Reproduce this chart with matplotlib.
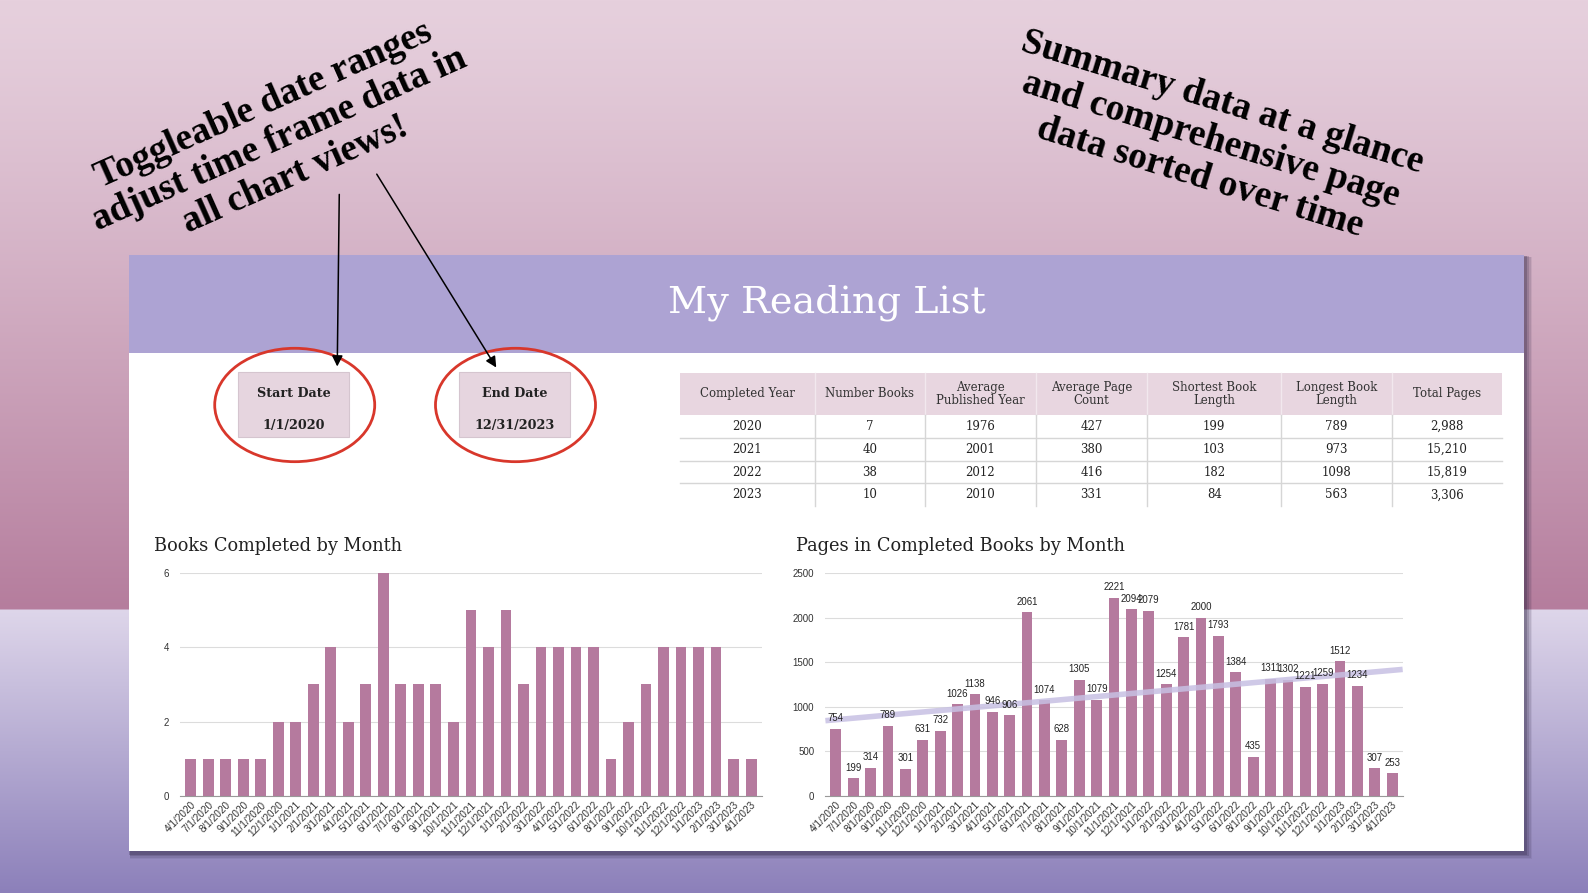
import numpy as np
import matplotlib
matplotlib.use("Agg")
import matplotlib.pyplot as plt
from matplotlib.patches import Rectangle, Ellipse

# ---- data ----
months = ["4/1/2020", "7/1/2020", "8/1/2020", "9/1/2020", "11/1/2020", "12/1/2020",
          "1/1/2021", "2/1/2021", "3/1/2021", "4/1/2021", "5/1/2021", "6/1/2021",
          "7/1/2021", "8/1/2021", "9/1/2021", "10/1/2021", "11/1/2021", "12/1/2021",
          "1/1/2022", "2/1/2022", "3/1/2022", "4/1/2022", "5/1/2022", "6/1/2022",
          "8/1/2022", "9/1/2022", "10/1/2022", "11/1/2022", "12/1/2022",
          "1/1/2023", "2/1/2023", "3/1/2023", "4/1/2023"]
books = [1, 1, 1, 1, 1, 2,
         2, 3, 4, 2, 3, 6, 3, 3, 3, 2, 5, 4,
         5, 3, 4, 4, 4, 4, 1, 2, 3, 4, 4,
         4, 4, 1, 1]
pages = [754, 199, 314, 789, 301, 631,
         732, 1026, 1138, 946, 906, 2061, 1074, 628, 1305, 1079, 2221, 2094,
         2079, 1254, 1781, 2000, 1793, 1384, 435, 1311, 1302, 1221, 1259,
         1512, 1234, 307, 253]

table_headers = ["Completed Year", "Number Books", "Average\nPublished Year",
                 "Average Page\nCount", "Shortest Book\nLength", "Longest Book\nLength",
                 "Total Pages"]
years = [2020, 2021, 2022, 2023]
num_books = [7, 40, 38, 10]
avg_published = [1976, 2001, 2012, 2010]
avg_pages = [427, 380, 416, 331]
shortest = [199, 103, 182, 84]
longest = [789, 973, 1098, 563]
total_pages = [2988, 15210, 15819, 3306]

start_date = "1/1/2020"
end_date = "12/31/2023"

# layout is measured on a 1568x882 grid, output is 1588x893
W, H = 1568, 882
bar_color = "#b57a9e"
serif = ["DejaVu Serif"]
sans = ["Liberation Sans", "DejaVu Sans"]

fig = plt.figure(figsize=(15.88, 8.93), dpi=100)

bg = fig.add_axes([0, 0, 1, 1])
bg.set_xlim(0, W)
bg.set_ylim(H, 0)
bg.axis("off")

split = 602
img = np.zeros((H, 1, 3))
t = np.linspace(0, 1, split)[:, None]
c0, c1 = np.array([230, 208, 221]), np.array([181, 125, 157])
img[:split, 0, :] = (c0 + (c1 - c0) * t ** 1.2) / 255
t = np.linspace(0, 1, H - split)[:, None]
c0, c1 = np.array([222, 214, 234]), np.array([140, 128, 186])
img[split:, 0, :] = (c0 + (c1 - c0) * t) / 255
bg.imshow(img, extent=[0, W, H, 0], aspect="auto", zorder=0)

# card with soft shadow
for i, a in enumerate([0.08, 0.12, 0.18, 0.25]):
    off = 6 - i * 1.2
    bg.add_patch(Rectangle((127 + off * 0.3, 252 + off * 0.3), 1378 + off, 589 + off,
                           fc="#2a2040", alpha=a, lw=0, zorder=1))
bg.add_patch(Rectangle((127, 252), 1378, 589, fc="white", lw=0, zorder=2))
bg.add_patch(Rectangle((127, 252), 1378, 97, fc="#ada3d3", lw=0, zorder=3))
bg.text(816, 299, "My Reading List", color="white", fontsize=27.5, family=serif,
        ha="center", va="center", zorder=4)

# date boxes
for cx, label, val in [(290, "Start Date", start_date), (508, "End Date", end_date)]:
    bg.add_patch(Rectangle((cx - 55, 367), 110, 65, fc="#e6d5df", ec="#d5c5cf", lw=0.8, zorder=3))
    bg.text(cx, 389, label, fontsize=9.2, fontweight="bold", family=serif,
            ha="center", va="center", color="#222", zorder=4)
    bg.text(cx, 420, val, fontsize=9.2, fontweight="bold", family=serif,
            ha="center", va="center", color="#222", zorder=4)
    bg.add_patch(Ellipse((cx + 1, 400), 158, 112, fc="none", ec="#d8372b", lw=2, zorder=5))

# summary table
col_edges = [671, 805, 913, 1023, 1133, 1265, 1374, 1483]
head_top, head_bot, row_h = 368, 410, 22.5
bg.add_patch(Rectangle((col_edges[0], head_top), col_edges[-1] - col_edges[0],
                       head_bot - head_top, fc="#e8d6e0", lw=0, zorder=3))
rows = list(zip(years, num_books, avg_published, avg_pages, shortest, longest,
                [f"{v:,}" for v in total_pages]))
for j, h in enumerate(table_headers):
    cx = (col_edges[j] + col_edges[j + 1]) / 2
    bg.text(cx, (head_top + head_bot) / 2, h, fontsize=8.5, family=serif, ha="center",
            va="center", color="#333", linespacing=1.0, zorder=4)
    for i, r in enumerate(rows):
        bg.text(cx, head_bot + row_h * (i + 0.5), str(r[j]), fontsize=8.5, family=serif,
                ha="center", va="center", color="#222", zorder=4)
for i in range(len(rows) - 1):
    y = head_bot + row_h * (i + 1)
    bg.plot([col_edges[0], col_edges[-1]], [y, y], color="#d6d6d6", lw=1, zorder=4)
for x in col_edges[1:-1]:
    bg.plot([x, x], [head_top, head_bot], color="#f2e8ee", lw=1, zorder=4)
    bg.plot([x, x], [head_bot, head_bot + row_h * len(rows)], color="#d6d6d6", lw=1, zorder=4)

# annotations
bg.text(276, 138, "Toggleable date ranges\nadjust time frame data in\nall chart views!",
        rotation=24, ha="center", va="center", multialignment="center", fontsize=27,
        fontweight="bold", family=["Liberation Serif"], linespacing=1.12,
        rotation_mode="anchor", zorder=4)
bg.text(1196, 138, "Summary data at a glance\nand comprehensive page\ndata sorted over time",
        rotation=-17, ha="center", va="center", multialignment="center", fontsize=27,
        fontweight="bold", family=["Liberation Serif"], linespacing=1.15,
        rotation_mode="anchor", zorder=4)
arrow = dict(arrowstyle="-|>", color="black", lw=1.1, mutation_scale=16, shrinkA=0, shrinkB=0)
bg.annotate("", xy=(333, 362), xytext=(335, 192), arrowprops=arrow, zorder=6)
bg.annotate("", xy=(490, 363), xytext=(372, 172), arrowprops=arrow, zorder=6)

# chart titles
bg.text(152, 539, "Books Completed by Month", fontsize=12.8, family=serif,
        va="center", color="#222", zorder=4)
bg.text(786, 539, "Pages in Completed Books by Month", fontsize=12.8, family=serif,
        va="center", color="#222", zorder=4)

x = np.arange(len(months))


def style(ax, yticks):
    ax.set_facecolor("none")
    ax.set_xlim(-0.6, len(months) - 0.4)
    ax.set_yticks(yticks)
    ax.grid(axis="y", color="#dcdcdc", lw=0.8, zorder=0)
    for s in ["top", "right", "left"]:
        ax.spines[s].set_visible(False)
    ax.spines["bottom"].set_color("#999")
    ax.tick_params(axis="y", length=0, labelsize=7, labelcolor="#333", pad=8)
    ax.tick_params(axis="x", length=0, pad=3)
    ax.set_xticks(x)
    ax.set_xticklabels(months, rotation=45, ha="right", rotation_mode="anchor",
                       fontsize=7.2, color="#333", family=sans)
    for lab in ax.get_yticklabels():
        lab.set_family(sans)


ax1 = fig.add_axes([178 / W, 1 - 786 / H, 574 / W, 220 / H], zorder=5)
ax1.bar(x, books, width=0.62, color=bar_color, zorder=2)
ax1.set_ylim(0, 6)
style(ax1, [0, 2, 4, 6])

ax2 = fig.add_axes([815 / W, 1 - 786 / H, 570 / W, 220 / H], zorder=5)
bars = ax2.bar(x, pages, width=0.62, color=bar_color, zorder=2)
ax2.set_ylim(0, 2500)
style(ax2, [0, 500, 1000, 1500, 2000, 2500])
coef = np.polyfit(x, pages, 1)
xl = np.array(ax2.get_xlim())
ax2.plot(xl, np.polyval(coef, xl), color="#c7c0e3", lw=4, alpha=0.85, zorder=3,
         solid_capstyle="butt")
ax2.bar_label(bars, padding=4, fontsize=6.9, color="#222", family=sans, zorder=4)

fig.savefig("out.png", dpi=100)
